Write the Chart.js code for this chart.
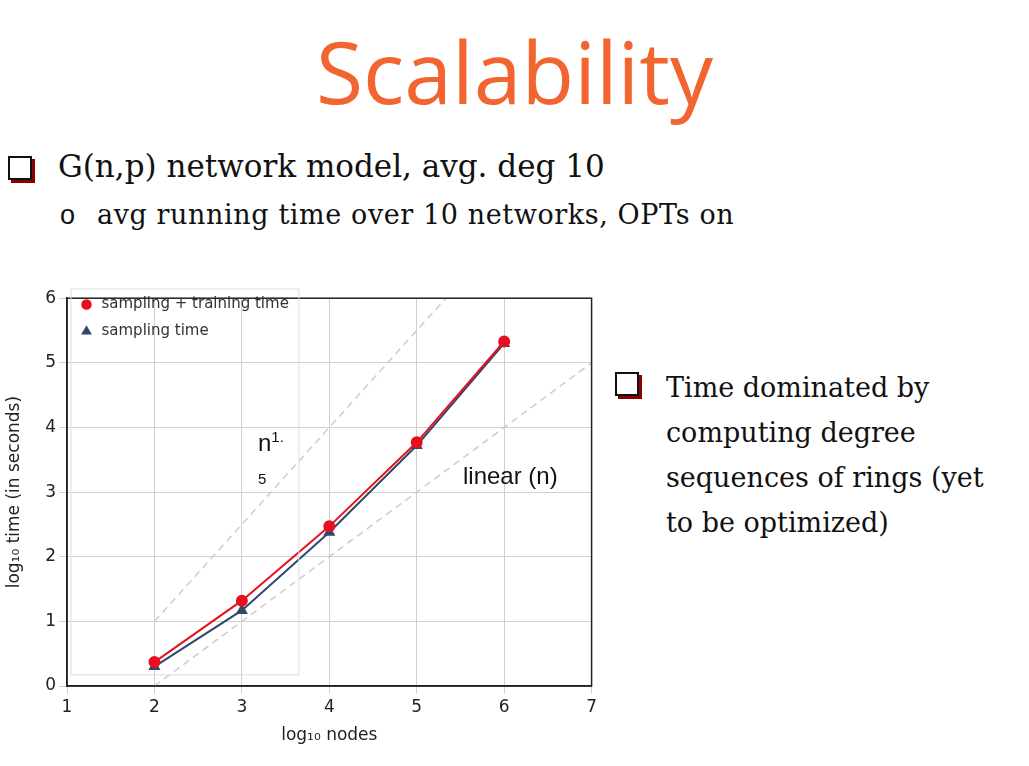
<!DOCTYPE html>
<html lang="en">
<head>
<meta charset="UTF-8">
<title>Scalability</title>
<script src="https://cdn.jsdelivr.net/npm/chart.js"></script>
<style>
    body { margin: 0; width: 1029px; height: 766px; background: #fff; position: relative; overflow: hidden; font-family: "DejaVu Serif", serif; }
    h1 { position: absolute; top: 12px; left: 0; width: 1029px; margin: 0; text-align: center; font-family: "Open Sans", sans-serif; font-weight: normal; font-size: 86px; color: #f26430; }
    .txt { position: absolute; color: #111; }
    .box { display: inline-block; width: 20px; height: 20px; border: 2px solid #111; box-shadow: 3px 3px 0 #8b0000; position: absolute; }
    #wrap { position: absolute; left: 0; top: 285px; width: 600px; height: 465px; }
    .lbl { position: absolute; font-family: "Liberation Sans", Arial, sans-serif; color: #111; }
</style>
</head>
<body>
<h1>Scalability</h1>
<div class="box" style="left:8px;top:156px"></div>
<div class="txt" style="left:58px;top:148px;font-size:31px">G(n,p) network model, avg. deg 10</div>
<div class="txt" style="left:60px;top:200px;font-size:27px;font-family:'Liberation Sans',sans-serif">o</div>
<div class="txt" style="left:97px;top:199px;font-size:27px;letter-spacing:0.6px">avg running time over 10 networks, OPTs on</div>
<div class="box" style="left:615px;top:372px"></div>
<div class="txt" style="left:666px;top:365px;font-size:27px;line-height:45px">Time dominated by<br>computing degree<br>sequences of rings (yet<br>to be optimized)</div>
<div id="wrap"><canvas id="chart"></canvas></div>
<div class="lbl" style="left:258px;top:428px;font-size:24px">n<sup style="font-size:15px">1.</sup></div>
<div class="lbl" style="left:258px;top:470px;font-size:15px">5</div>
<div class="lbl" style="left:463px;top:462px;font-size:24px">linear (n)</div>
<script>
const nodes = [2, 3, 4, 5, 6];
const totalTime = [0.37, 1.32, 2.47, 3.77, 5.33];
const samplingTime = [0.30, 1.17, 2.38, 3.72, 5.30];
const powerRef = [[2, 1], [5.333, 6]];
const linearRef = [[2, 0], [7, 5]];

const pts = (xs, ys) => xs.map((x, i) => ({ x: x, y: ys[i] }));
const ref = arr => arr.map(p => ({ x: p[0], y: p[1] }));

// frame around plot and legend, like matplotlib
const framePlugin = {
    id: 'frame',
    afterDraw(chart) {
        const ctx = chart.ctx, a = chart.chartArea, lg = chart.legend;
        ctx.save();
        ctx.strokeStyle = '#222';
        ctx.lineWidth = 1.5;
        ctx.strokeRect(a.left, a.top, a.right - a.left, a.bottom - a.top);
        ctx.strokeStyle = '#ddd';
        ctx.lineWidth = 1;
        ctx.strokeRect(lg.left + 4, lg.top + 4, lg.width - 4, lg.height - 2);
        ctx.restore();
    }
};

new Chart(document.getElementById("chart"), {
    type: 'scatter',
    data: {
        datasets: [
            { label: 'sampling + training time', data: pts(nodes, totalTime), showLine: true, borderColor: '#e8101e', backgroundColor: '#e8101e', borderWidth: 2, pointRadius: 5, pointStyle: 'circle' },
            { label: 'sampling time', data: pts(nodes, samplingTime), showLine: true, borderColor: '#2d4a6e', backgroundColor: '#2d4a6e', borderWidth: 2, pointRadius: 5, pointStyle: 'triangle' },
            { label: 'n^1.5', data: ref(powerRef), showLine: true, borderColor: '#cccccc', borderDash: [7, 5], borderWidth: 1.5, pointRadius: 0 },
            { label: 'linear', data: ref(linearRef), showLine: true, borderColor: '#cccccc', borderDash: [7, 5], borderWidth: 1.5, pointRadius: 0 }
        ]
    },
    options: {
        responsive: true,
        maintainAspectRatio: false,
        animation: false,
        layout: { padding: { top: 8, right: 0 } },
        plugins: {
            tooltip: { enabled: false },
            legend: {
                position: 'chartArea', align: 'start',
                labels: {
                    filter: item => item.datasetIndex < 2,
                    usePointStyle: true, boxHeight: 6, padding: 12,
                    font: { family: 'DejaVu Sans', size: 15 }, color: '#333'
                }
            }
        },
        scales: {
            x: {
                type: 'linear', min: 1, max: 7,
                ticks: { stepSize: 1, font: { family: 'DejaVu Sans', size: 17 }, color: '#222' },
                grid: { color: '#d0d0d0' },
                border: { color: '#222', width: 1.5 },
                title: { display: true, text: 'log\u2081\u2080 nodes', font: { family: 'DejaVu Sans', size: 17 }, color: '#222' },
                afterFit: s => { s.height = 64; }
            },
            y: {
                min: 0, max: 6,
                ticks: { stepSize: 1, font: { family: 'DejaVu Sans', size: 17 }, color: '#222' },
                grid: { color: '#d0d0d0' },
                border: { color: '#222', width: 1.5 },
                title: { display: true, text: 'log\u2081\u2080 time (in seconds)', font: { family: 'DejaVu Sans', size: 17 }, color: '#222' },
                afterFit: s => { s.width = 67; }
            }
        }
    },
    plugins: [framePlugin]
});
</script>
</body>
</html>
